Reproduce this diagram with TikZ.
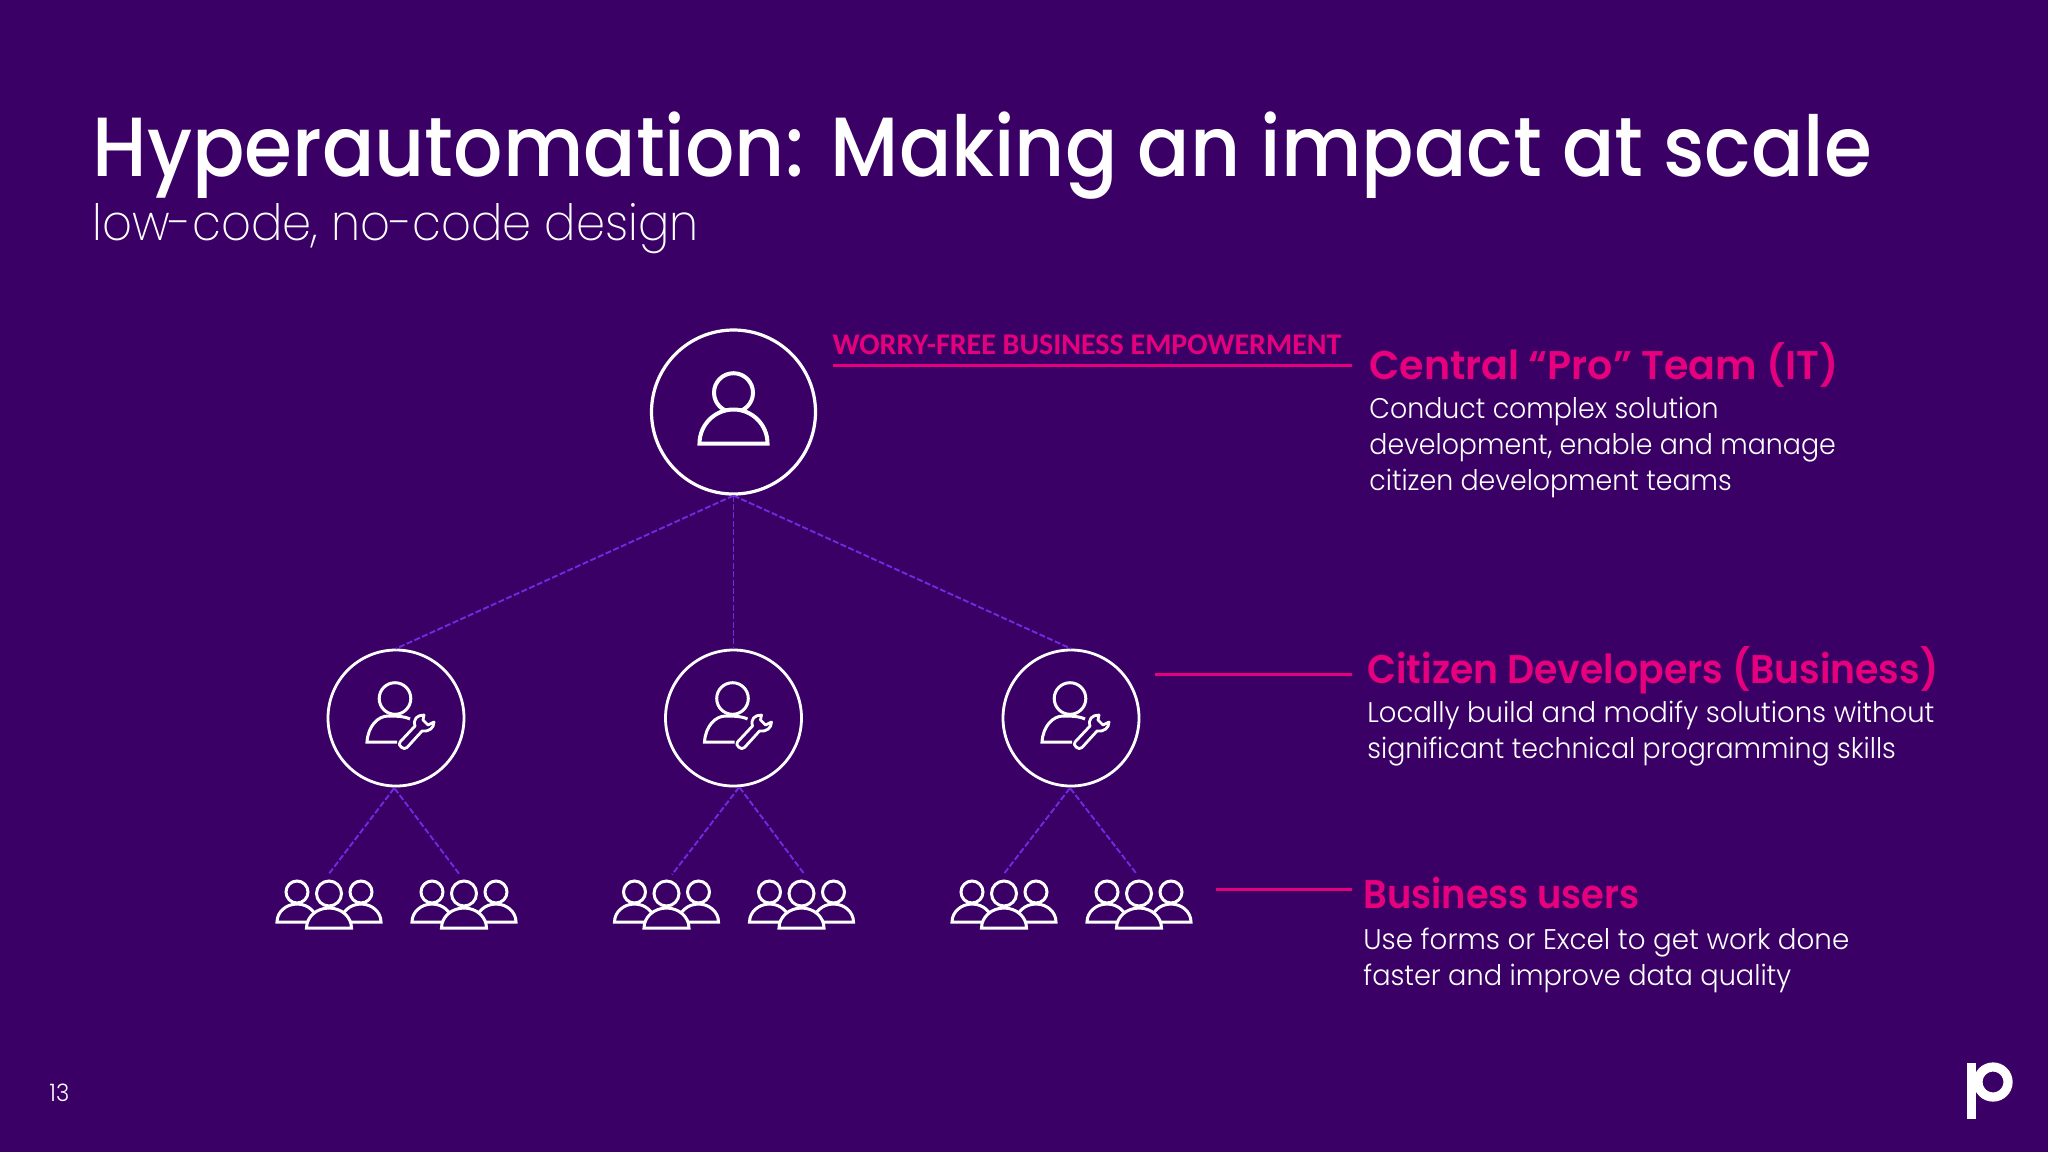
\documentclass[tikz,border=0pt]{standalone}
\usepackage{graphicx}
\usepackage{fontspec}
\setmainfont{Poppins}
\newfontfamily\lightfont{Poppins Light}[FakeStretch=0.945]
\newfontfamily\thinfont{Poppins ExtraLight}[FakeStretch=0.93]
\newfontfamily\titlefont{Poppins Medium}[FakeStretch=0.922]
\newfontfamily\semifont{Poppins SemiBold}[FakeStretch=0.92]
\newfontfamily\cbold{Carlito}[BoldFont=Carlito Bold]
\definecolor{bgpurple}{HTML}{3A0066}
\definecolor{hotpink}{HTML}{E6007E}
\definecolor{dashpurple}{HTML}{6F2BE0}
\begin{document}
\begin{tikzpicture}[x=0.5pt,y=-0.5pt,
  bigcirc/.style={circle,draw=white,line width=1.6pt,minimum size=82pt,inner sep=0pt},
  midcirc/.style={circle,draw=white,line width=1.4pt,minimum size=68pt,inner sep=0pt},
  anchorpt/.style={inner sep=0pt,minimum size=0pt},
  tree/.style={draw=dashpurple,dash pattern=on 3pt off 1.2pt,line width=0.95pt},
  rule/.style={draw=hotpink,line width=1.5pt},
  head/.style={anchor=base west,text=hotpink,inner sep=0pt,font=\semifont\fontsize{20}{24}\selectfont},
  desc/.style={anchor=base west,text=white,inner sep=0pt,font=\lightfont\fontsize{14.2}{18}\selectfont},
  icon/.style={draw=white,line join=miter},
  pics/person/.style={code={
    \draw[icon,line width=2pt] (0,-19.3) circle[radius=19.5];
    \draw[icon,line width=2pt,fill=bgpurple] (-34,31.5) arc[start angle=180,end angle=360,radius=34] -- cycle;
  }},
  pics/devper/.style={code={
    \draw[icon,line width=1.5pt] (-1,-19.5) circle[radius=15.8];
    \draw[icon,line width=1.5pt] (1,24) -- (-29,24) .. controls (-28,8) and (-18,-2) .. (-8,-2) .. controls (-2,-2) and (8,-2) .. (14,1);
    \draw[icon,line width=1.4pt,line join=round,fill=bgpurple] (4,24) -- (19,8) .. controls (17,1) and (21,-3) .. (28,-3) -- (27,2) -- (32,7) -- (38,4) .. controls (38,10) and (33,14) .. (26,13) -- (11,29.5) .. controls (8,33) and (1,27) .. (4,24) -- cycle;
  }},
  pics/crowd/.style={code={
    \draw[icon,line width=1.5pt] (-32,-1.5) circle[radius=11];
    \draw[icon,line width=1.5pt] (32,-1.5) circle[radius=11];
    \draw[icon,line width=1.5pt] (-52,28.5) arc[start angle=180,end angle=360,x radius=20,y radius=18] -- cycle;
    \draw[icon,line width=1.5pt] (12,28.5) arc[start angle=180,end angle=360,x radius=20,y radius=18] -- cycle;
    \draw[icon,line width=1.5pt,fill=bgpurple] (0,0) circle[radius=12.5];
    \draw[icon,line width=1.5pt,fill=bgpurple] (-22.5,34.5) arc[start angle=180,end angle=360,x radius=22.5,y radius=20] -- cycle;
  }}]
\fill[bgpurple] (0,0) rectangle (2048,1152);
\useasboundingbox (0,0) rectangle (2048,1152);

\node[anchor=base west,inner sep=0pt,text=white,font=\titlefont\fontsize{42}{50}\selectfont] (title) at (92,176) {Hyperautomation: Making an impact at scale};
\node[anchor=base west,inner sep=0pt,text=white,font=\thinfont\fontsize{25}{30}\selectfont] (subtitle) at (92,240) {low-code, no-code design};

\node[bigcirc] (top) at (733.5,412) {};
\node[midcirc] (m1) at (396,718) {};
\node[midcirc] (m2) at (733.5,718) {};
\node[midcirc] (m3) at (1071,718) {};

\pic at (top) {person};
\pic at (m1) {devper};
\pic at (m2) {devper};
\pic at (m3) {devper};

\foreach \x in {329,464,666.5,801.5,1004,1139}{
  \pic at (\x,893.5) {crowd};
}
\node[anchorpt] (g1) at (328,875) {};
\node[anchorpt] (g2) at (460,875) {};
\node[anchorpt] (g3) at (671.7,875) {};
\node[anchorpt] (g4) at (805,875) {};
\node[anchorpt] (g5) at (1003,875) {};
\node[anchorpt] (g6) at (1137.5,875) {};
\node[anchorpt] (t1) at (394.3,788) {};
\node[anchorpt] (t2) at (739.3,787) {};
\node[anchorpt] (t3) at (1070,788) {};

\draw[tree] (top.south) -- (m1.north);
\draw[tree] (top.south) -- (m2.north);
\draw[tree] (top.south) -- (m3.north);
\draw[tree] (t1) -- (g1);
\draw[tree] (t1) -- (g2);
\draw[tree] (t2) -- (g3);
\draw[tree] (t2) -- (g4);
\draw[tree] (t3) -- (g5);
\draw[tree] (t3) -- (g6);

\node[anchor=base,inner sep=0pt,text=hotpink,font=\cbold\bfseries\fontsize{15}{18}\selectfont] (worry) at (1087,354) {WORRY-FREE BUSINESS EMPOWERMENT};

\coordinate (r1a) at (833,365.5);
\coordinate (r1b) at (1352,365.5);
\coordinate (r2a) at (1154.5,674);
\coordinate (r2b) at (1352,674);
\coordinate (r3a) at (1216,889);
\coordinate (r3b) at (1352,889);
\draw[rule] (r1a) -- (r1b);
\draw[rule] (r2a) -- (r2b);
\draw[rule] (r3a) -- (r3b);

\node[head] (h1) at (1369,379) {\scalebox{1.075}[1]{Central “Pro” Team (IT)}};
\node[desc] (d1a) at (1369,418) {Conduct complex solution};
\node[desc] (d1b) at (1369,454) {development, enable and manage};
\node[desc] (d1c) at (1369,490) {citizen development teams};

\node[head] (h2) at (1367,683) {\scalebox{1.026}[1]{Citizen Developers (Business)}};
\node[desc] (d2a) at (1367,722) {\scalebox{1.024}[1]{Locally build and modify solutions without}};
\node[desc] (d2b) at (1367,758) {significant technical programming skills};

\node[head] (h3) at (1363,908) {Business users};
\node[desc] (d3a) at (1363,949) {\scalebox{1.033}[1]{Use forms or Excel to get work done}};
\node[desc] (d3b) at (1363,985) {\scalebox{1.012}[1]{faster and improve data quality}};

\node[anchor=base west,inner sep=0pt,text=white,font=\lightfont\fontsize{12}{14}\selectfont] (page) at (49,1101) {13};

\fill[white] (1967,1063) rectangle (1976,1119);
\draw[white,line width=4.6pt] (1993,1082) circle[radius=15];
\end{tikzpicture}
\end{document}
